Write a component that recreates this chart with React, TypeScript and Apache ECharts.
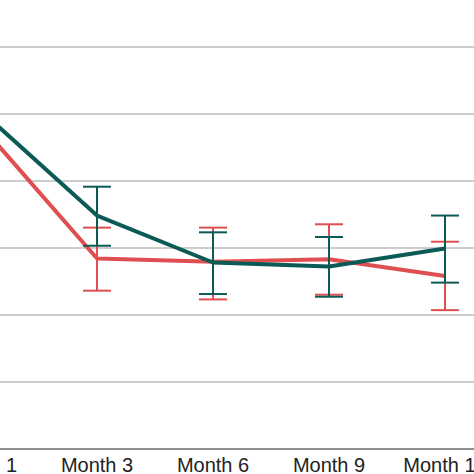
import React, { useEffect, useRef } from "react";
import * as echarts from "echarts";

const categories = ["Month 1", "Month 3", "Month 6", "Month 9", "Month 12"];
const greenValues = [5.04, 3.48, 2.78, 2.72, 2.99];
const redValues = [4.82, 2.84, 2.79, 2.83, 2.58];
const greenLow = [null, 3.03, 2.31, 2.27, 2.48];
const greenHigh = [null, 3.91, 3.23, 3.16, 3.48];
const redLow = [null, 2.36, 2.23, 2.3, 2.07];
const redHigh = [null, 3.3, 3.3, 3.35, 3.09];

const GREEN = "#0c5a56";
const RED = "#df4f51";

function errorSeries(low: (number | null)[], high: (number | null)[], color: string, z: number) {
  const data: number[][] = [];
  low.forEach((l, i) => {
    const h = high[i];
    if (l != null && h != null) data.push([i, l, h]);
  });
  return {
    type: "custom",
    z,
    silent: true,
    data,
    encode: { x: 0, y: [1, 2] },
    renderItem: (params: any, api: any) => {
      const x = api.value(0);
      const lo = api.coord([x, api.value(1)]);
      const hi = api.coord([x, api.value(2)]);
      const half = 14;
      const style = { stroke: color, lineWidth: 2, fill: "none" };
      return {
        type: "group",
        children: [
          { type: "line", shape: { x1: lo[0], y1: lo[1], x2: hi[0], y2: hi[1] }, style },
          { type: "line", shape: { x1: hi[0] - half, y1: hi[1], x2: hi[0] + half, y2: hi[1] }, style },
          { type: "line", shape: { x1: lo[0] - half, y1: lo[1], x2: lo[0] + half, y2: lo[1] }, style },
        ],
      };
    },
  };
}

export default function App() {
  const ref = useRef<HTMLDivElement>(null);
  useEffect(() => {
    document.body.style.margin = "0";
    const chart = echarts.init(ref.current!, null, { renderer: "svg" });
    chart.setOption({
      animation: false,
      backgroundColor: "#ffffff",
      grid: {
        left: -77,
        right: -29,
        top: 46.5,
        bottom: 25,
        containLabel: false,
        outerBoundsMode: "none",
      },
      xAxis: {
        type: "category",
        data: categories,
        boundaryGap: true,
        axisLine: { lineStyle: { color: "#7a7a7a", width: 1.5 } },
        axisTick: { show: false },
        axisLabel: {
          interval: 0,
          margin: 6,
          fontSize: 20,
          color: "#222222",
          fontFamily: "Liberation Sans, Arial, sans-serif",
        },
      },
      yAxis: {
        type: "value",
        min: 0,
        max: 6,
        interval: 1,
        axisLine: { show: false },
        axisTick: { show: false },
        axisLabel: { show: false },
        splitLine: { lineStyle: { color: "#bdbdbd", width: 1.5 } },
      },
      series: [
        {
          type: "line",
          data: redValues,
          symbol: "none",
          z: 2,
          lineStyle: { color: RED, width: 4 },
        },
        errorSeries(redLow, redHigh, RED, 3),
        {
          type: "line",
          data: greenValues,
          symbol: "none",
          z: 4,
          lineStyle: { color: GREEN, width: 4 },
        },
        errorSeries(greenLow, greenHigh, GREEN, 5),
      ],
    });
    return () => chart.dispose();
  }, []);
  return <div ref={ref} style={{ width: 474, height: 474 }} />;
}
